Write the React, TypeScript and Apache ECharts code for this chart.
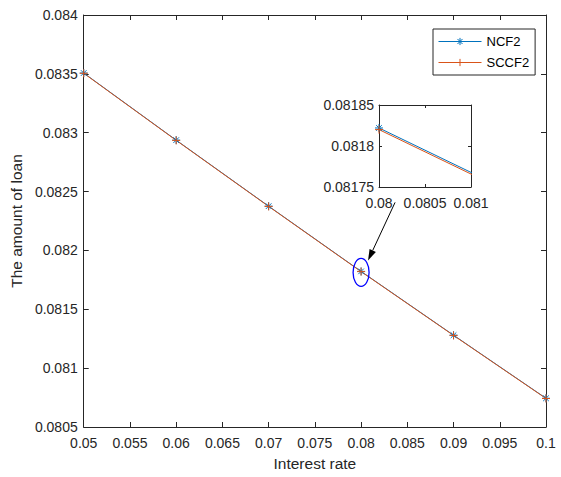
import React, { useEffect, useRef } from "react";
import * as echarts from "echarts";

// 数据
const rates = [0.05, 0.06, 0.07, 0.08, 0.09, 0.1];
const ncf2 = [0.083507, 0.082937, 0.082376, 0.081822, 0.08128, 0.080744];
const sccf2 = [0.083505, 0.082935, 0.082374, 0.08182, 0.081278, 0.080742];

const BLUE = "#0072BD";
const ORANGE = "#D95319";
const AX = "#262626";
const FONT = "'Liberation Sans', Arial, sans-serif";

const STAR = "path://M0,-5L0,5M-5,0L5,0M-3.5,-3.5L3.5,3.5M-3.5,3.5L3.5,-3.5";
const PLUS = "path://M0,-5L0,5M-5,0L5,0";

const pairs = (ys: number[]) => rates.map((x, i) => [x, ys[i]]);

const axisBase = (min: number, max: number, interval: number, showLabel: boolean, tick: number, margin = 8) => ({
  type: "value" as const,
  min,
  max,
  interval,
  splitLine: { show: false },
  axisLine: { show: true, onZero: false, lineStyle: { color: AX, width: 1 } },
  axisTick: { show: true, inside: true, length: tick, lineStyle: { color: AX } },
  axisLabel: {
    show: showLabel,
    color: AX,
    fontSize: 14,
    margin,
    fontFamily: FONT,
    formatter: (v: number) => String(parseFloat(v.toFixed(6))),
  },
});

const lineSeries = (name: string, ys: number[], color: string, symbol: string, idx: number) => ({
  name,
  type: "line" as const,
  xAxisIndex: idx,
  yAxisIndex: idx,
  data: pairs(ys),
  symbol,
  symbolSize: 8,
  showAllSymbol: true,
  clip: true,
  lineStyle: { color, width: 1 },
  itemStyle: { color, borderColor: color, borderWidth: 1 },
  emphasis: { disabled: true },
});

const nameStyle = { color: AX, fontSize: 15.5, fontFamily: FONT };

const App: React.FC = () => {
  const chartRef = useRef<HTMLDivElement>(null);

  useEffect(() => {
    const chart = echarts.init(chartRef.current, undefined, { renderer: "svg" });
    const option: any = {
      animation: false,
      backgroundColor: "#ffffff",
      textStyle: { fontFamily: FONT },
      legend: {
        orient: "vertical",
        left: 433,
        top: 29,
        data: ["NCF2", "SCCF2"],
        itemWidth: 43,
        itemHeight: 9,
        itemGap: 8,
        padding: [6, 6, 6, 5],
        backgroundColor: "#ffffff",
        borderColor: AX,
        borderWidth: 1,
        lineStyle: { width: 1 },
        itemStyle: { borderWidth: 1 },
        textStyle: { color: "#000", fontSize: 13, fontFamily: FONT },
      },
      grid: [
        { left: 81, right: 15, top: 15, bottom: 50, show: false },
        { left: 379, top: 105, width: 92, height: 82, show: false },
      ],
      xAxis: [
        {
          ...axisBase(0.05, 0.1, 0.005, true, 5, 9),
          gridIndex: 0,
          position: "bottom",
          name: "Interest rate",
          nameLocation: "middle",
          nameGap: 28,
          nameTextStyle: nameStyle,
        },
        { ...axisBase(0.05, 0.1, 0.005, false, 5), gridIndex: 0, position: "top" },
        { ...axisBase(0.08, 0.081, 0.0005, true, 3, 9), gridIndex: 1, position: "bottom" },
        { ...axisBase(0.08, 0.081, 0.0005, false, 3), gridIndex: 1, position: "top" },
      ],
      yAxis: [
        {
          ...axisBase(0.0805, 0.084, 0.0005, true, 5, 6),
          gridIndex: 0,
          position: "left",
          name: "The amount of loan",
          nameLocation: "middle",
          nameGap: 55,
          nameTextStyle: nameStyle,
        },
        { ...axisBase(0.0805, 0.084, 0.0005, false, 5), gridIndex: 0, position: "right" },
        { ...axisBase(0.08175, 0.08185, 0.00005, true, 3, 5), gridIndex: 1, position: "left" },
        { ...axisBase(0.08175, 0.08185, 0.00005, false, 3), gridIndex: 1, position: "right" },
      ],
      series: [
        lineSeries("NCF2", ncf2, BLUE, STAR, 0),
        lineSeries("SCCF2", sccf2, ORANGE, PLUS, 0),
        lineSeries("NCF2", ncf2, BLUE, STAR, 2),
        lineSeries("SCCF2", sccf2, ORANGE, PLUS, 2),
      ],
    };
    chart.setOption(option);

    // 标注：椭圆 + 箭头
    const [cx, cy] = chart.convertToPixel({ xAxisIndex: 0, yAxisIndex: 0 }, [rates[3], ncf2[3]]) as number[];
    const ex = cx + 7;
    const ey = cy - 11;
    const sx = cx + 34;
    const sy = cy - 69;
    const dx = ex - sx;
    const dy = ey - sy;
    const len = Math.sqrt(dx * dx + dy * dy);
    const ux = dx / len;
    const uy = dy / len;
    const bx = ex - ux * 11;
    const by = ey - uy * 11;
    chart.setOption({
      graphic: [
        {
          type: "ellipse",
          shape: { cx, cy: cy + 1, rx: 8, ry: 14 },
          style: { fill: "none", stroke: "#0000FF", lineWidth: 1.3 },
          z: 100,
        },
        {
          type: "line",
          shape: { x1: sx, y1: sy, x2: bx, y2: by },
          style: { stroke: "#000", lineWidth: 1 },
          z: 100,
        },
        {
          type: "polygon",
          shape: {
            points: [
              [ex, ey],
              [bx - uy * 3.5, by + ux * 3.5],
              [bx + uy * 3.5, by - ux * 3.5],
            ],
          },
          style: { fill: "#000" },
          z: 100,
        },
      ],
    });

    return () => {
      chart.dispose();
    };
  }, []);

  return (
    <div
      ref={chartRef}
      style={{ position: "fixed", left: 0, top: 0, width: 561, height: 477 }}
    />
  );
};

export default App;
